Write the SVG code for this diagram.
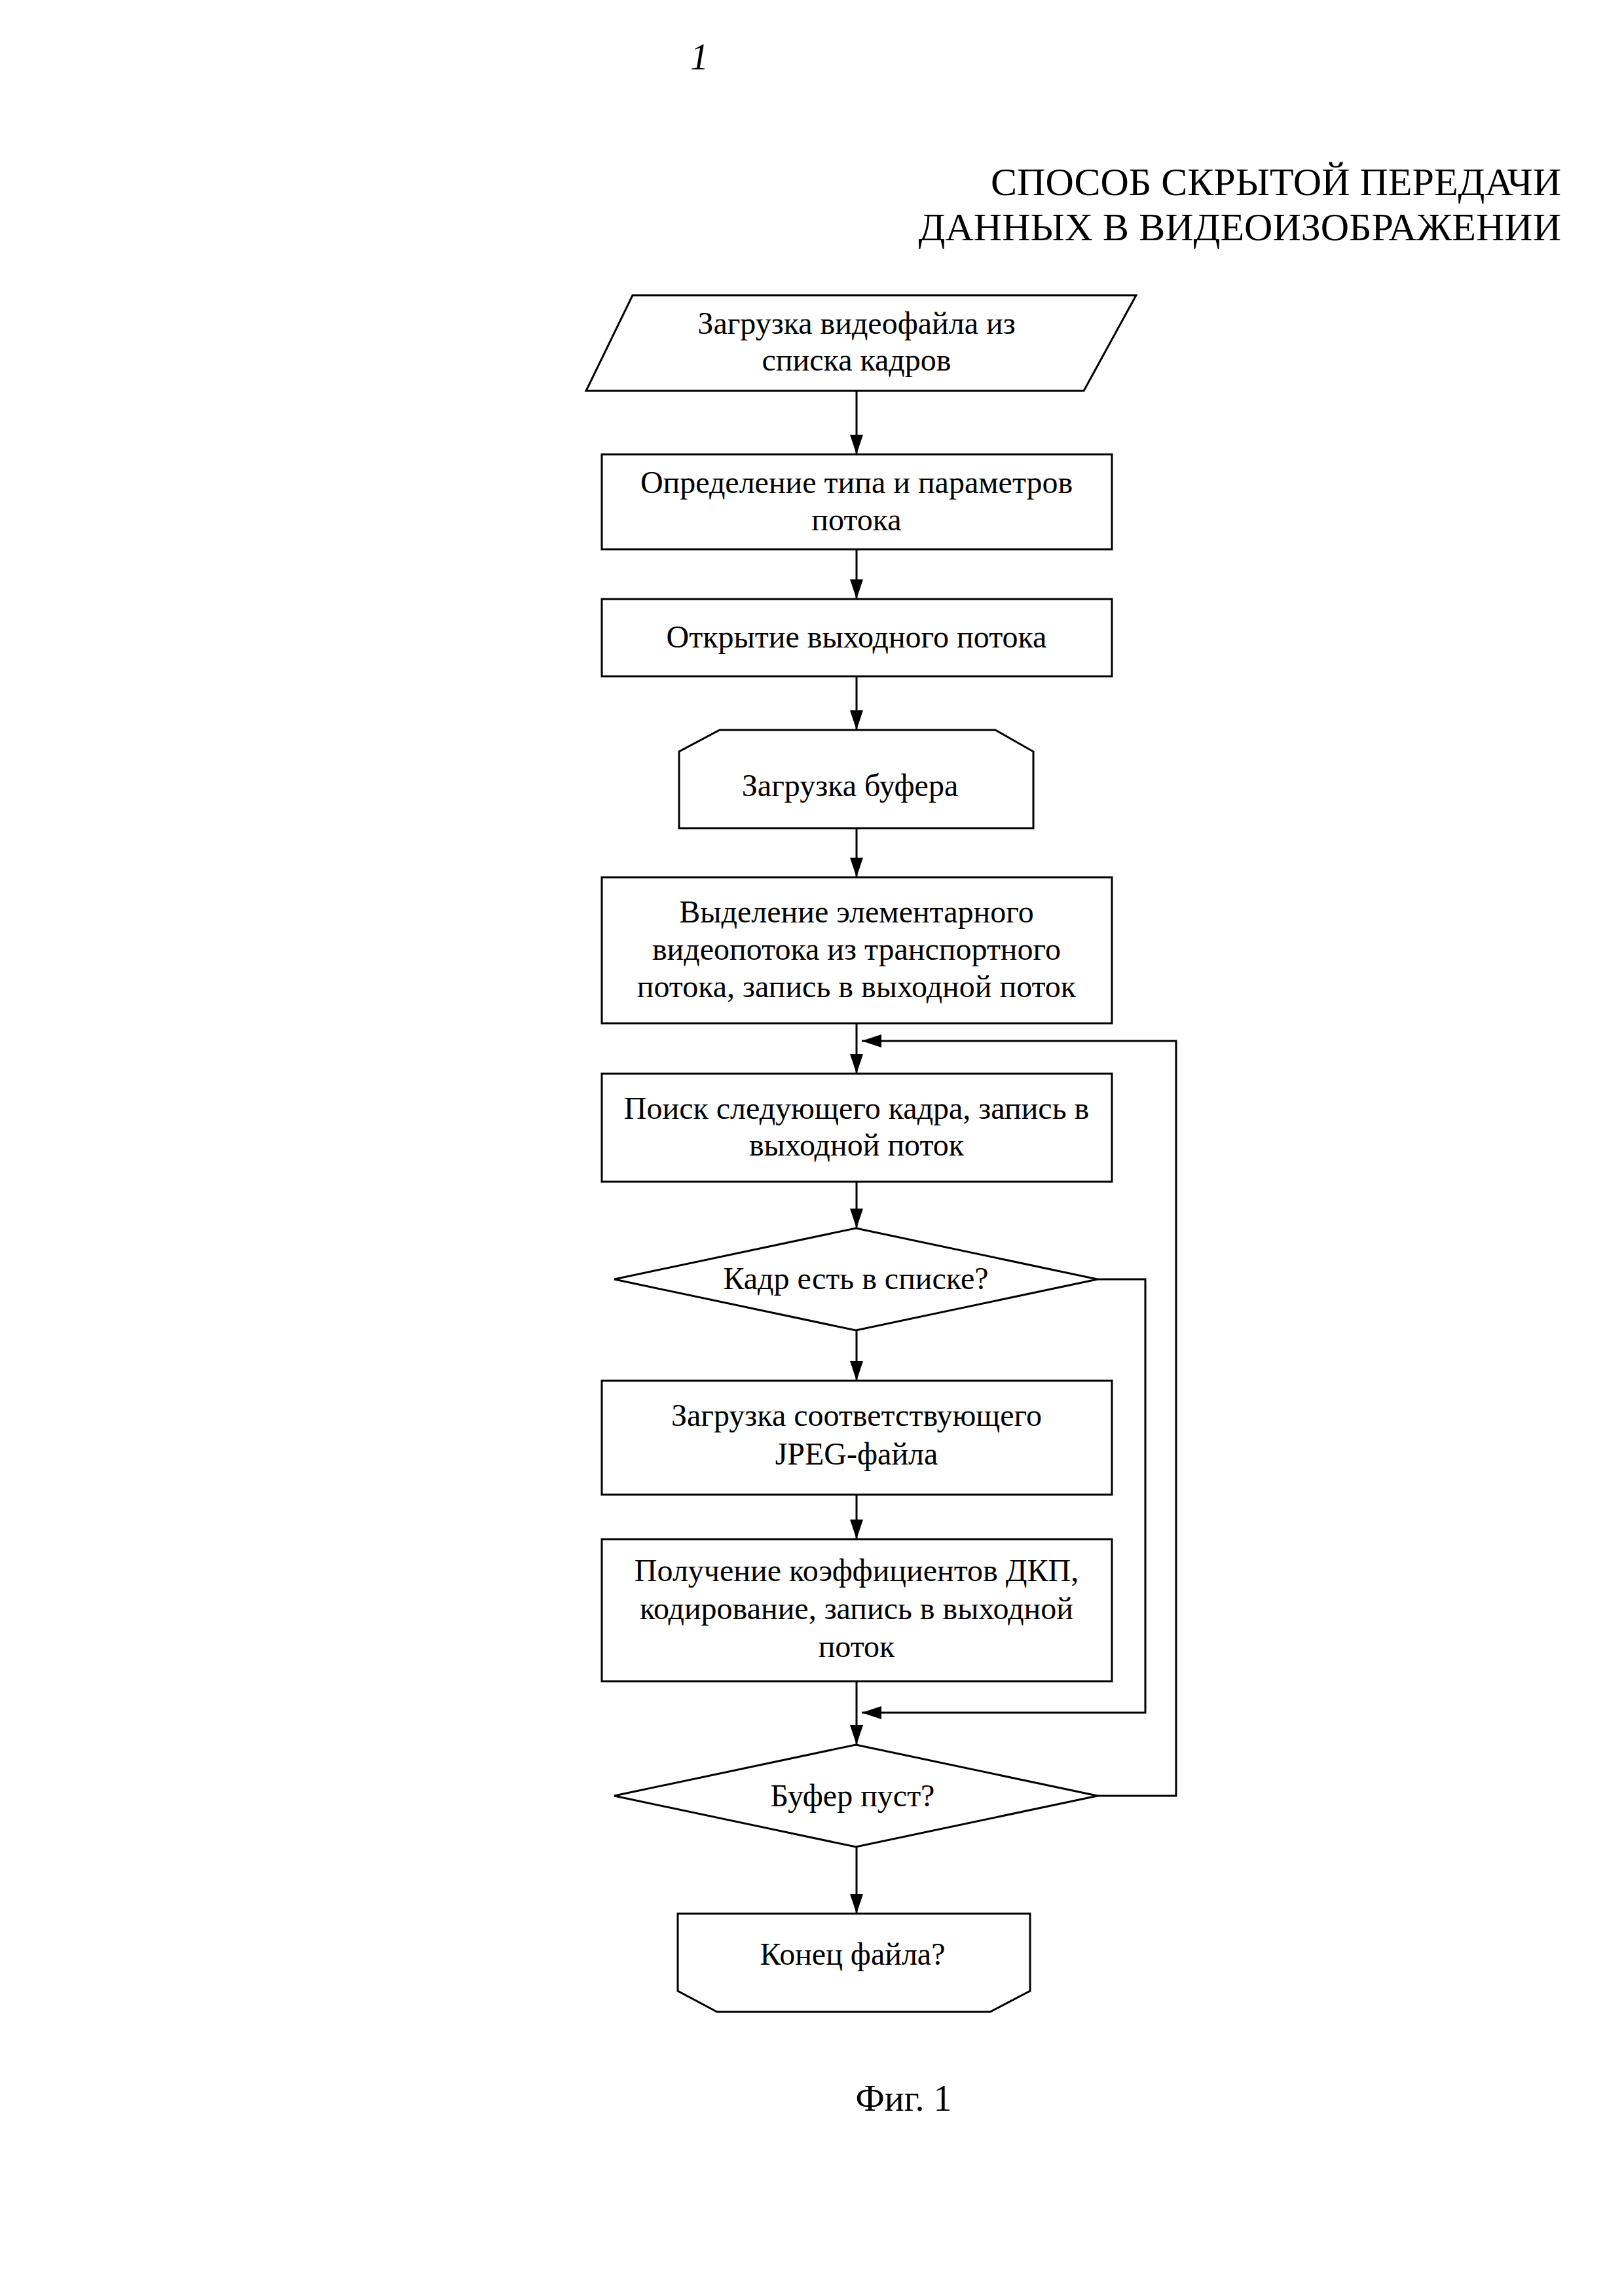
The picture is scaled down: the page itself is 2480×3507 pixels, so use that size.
<svg xmlns="http://www.w3.org/2000/svg" width="2480" height="3507" viewBox="0 0 2480 3507">
<style>
.n{fill:#fff;stroke:#000;stroke-width:3}
.t{font-family:"Liberation Serif","Times New Roman",serif;font-size:48px;fill:#000;text-anchor:middle}
.c{fill:none;stroke:#000;stroke-width:3}
</style>
<defs>
<marker id="ah" markerUnits="userSpaceOnUse" markerWidth="32" markerHeight="22" refX="30" refY="10" orient="auto">
<path d="M0,0 L30,10 L0,20 Z" fill="#000"/>
</marker>
</defs>
<rect width="2480" height="3507" fill="#fff"/>
<text x="1054" y="106" style="font-family:'Liberation Serif',serif;font-size:56px;font-style:italic">1</text>
<g id="title" style="font-family:'Liberation Serif','Times New Roman',serif;font-size:60px;text-anchor:end">
<text x="2384" y="298">СПОСОБ СКРЫТОЙ ПЕРЕДАЧИ</text>
<text x="2384" y="367">ДАННЫХ В ВИДЕОИЗОБРАЖЕНИИ</text>
</g>
<g id="connectors">
<line class="c" x1="1308" y1="597" x2="1308" y2="694" marker-end="url(#ah)"/>
<line class="c" x1="1308" y1="839" x2="1308" y2="915" marker-end="url(#ah)"/>
<line class="c" x1="1308" y1="1033" x2="1308" y2="1115" marker-end="url(#ah)"/>
<line class="c" x1="1308" y1="1265" x2="1308" y2="1340" marker-end="url(#ah)"/>
<line class="c" x1="1308" y1="1563" x2="1308" y2="1640" marker-end="url(#ah)"/>
<line class="c" x1="1308" y1="1805" x2="1308" y2="1876" marker-end="url(#ah)"/>
<line class="c" x1="1308" y1="2032" x2="1308" y2="2109" marker-end="url(#ah)"/>
<line class="c" x1="1308" y1="2283" x2="1308" y2="2351" marker-end="url(#ah)"/>
<line class="c" x1="1308" y1="2568" x2="1308" y2="2665" marker-end="url(#ah)"/>
<line class="c" x1="1308" y1="2821" x2="1308" y2="2923" marker-end="url(#ah)"/>
<polyline class="c" points="1676,1954 1749,1954 1749,2616 1316,2616" marker-end="url(#ah)"/>
<polyline class="c" points="1676,2743 1796,2743 1796,1590 1316,1590" marker-end="url(#ah)"/>
</g>
<g id="n1">
<polygon class="n" points="966,451 1735,451 1655,597 895,597"/>
<text class="t" x="1308" y="510">Загрузка видеофайла из</text>
<text class="t" x="1308" y="566">списка кадров</text>
</g>
<g id="n2">
<rect class="n" x="919" y="694" width="779" height="145"/>
<text class="t" x="1308" y="753">Определение типа и параметров</text>
<text class="t" x="1308" y="810">потока</text>
</g>
<g id="n3">
<rect class="n" x="919" y="915" width="779" height="118"/>
<text class="t" x="1308" y="989">Открытие выходного потока</text>
</g>
<g id="n4">
<polygon class="n" points="1099,1115 1520,1115 1578,1148 1578,1265 1037,1265 1037,1148"/>
<text class="t" x="1298" y="1216">Загрузка буфера</text>
</g>
<g id="n5">
<rect class="n" x="919" y="1340" width="779" height="223"/>
<text class="t" x="1308" y="1409">Выделение элементарного</text>
<text class="t" x="1308" y="1466">видеопотока из транспортного</text>
<text class="t" x="1308" y="1523">потока, запись в выходной поток</text>
</g>
<g id="n6">
<rect class="n" x="919" y="1640" width="779" height="165"/>
<text class="t" x="1308" y="1709">Поиск следующего кадра, запись в</text>
<text class="t" x="1308" y="1765">выходной поток</text>
</g>
<g id="n7">
<polygon class="n" points="1307,1876 1676,1954 1307,2032 938,1954"/>
<text class="t" x="1307" y="1969">Кадр есть в списке?</text>
</g>
<g id="n8">
<rect class="n" x="919" y="2109" width="779" height="174"/>
<text class="t" x="1308" y="2178">Загрузка соответствующего</text>
<text class="t" x="1308" y="2237">JPEG-файла</text>
</g>
<g id="n9">
<rect class="n" x="919" y="2351" width="779" height="217"/>
<text class="t" x="1308" y="2415">Получение коэффициентов ДКП,</text>
<text class="t" x="1308" y="2473">кодирование, запись в выходной</text>
<text class="t" x="1308" y="2531">поток</text>
</g>
<g id="n10">
<polygon class="n" points="1307,2665 1676,2743 1307,2821 938,2743"/>
<text class="t" x="1302" y="2759">Буфер пуст?</text>
</g>
<g id="n11">
<polygon class="n" points="1035,2923 1573,2923 1573,3041 1512,3073 1095,3073 1035,3041"/>
<text class="t" x="1302" y="3001">Конец файла?</text>
</g>
<text x="1380" y="3224" style="font-family:'Liberation Serif','Times New Roman',serif;font-size:56px;text-anchor:middle">Фиг. 1</text>
</svg>
